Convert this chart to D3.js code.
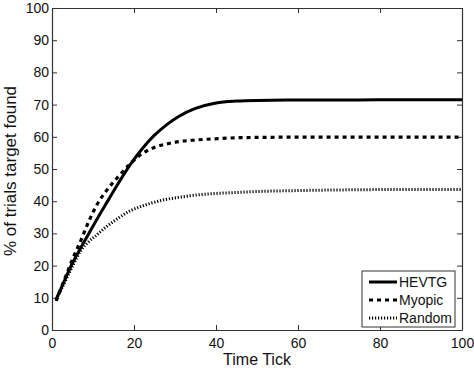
<!DOCTYPE html>
<html>
<head>
<meta charset="utf-8">
<script src="https://cdn.jsdelivr.net/npm/d3@7"></script>
<style>
  body { margin: 0; background: #fff; }
  text { font-family: "Liberation Sans", Arial, sans-serif; fill: #111; }
</style>
</head>
<body>
<div id="chart"></div>
<script>
const ticks = [1, 3, 5, 7, 9, 11, 13, 16, 19, 22, 25, 28, 31, 35, 40, 45, 50, 60, 70, 80, 90, 100]
const hevtg = [9.5, 15.2, 20.8, 25.5, 30, 34.5, 38.8, 45.2, 51.2, 56.3, 60.5, 63.8, 66.4, 68.8, 70.5, 71.1, 71.3, 71.4, 71.4, 71.5, 71.5, 71.5]
const myopic = [9, 15.5, 22, 27.7, 33.8, 39, 42.8, 47.4, 51.5, 54.8, 56.7, 57.8, 58.5, 59, 59.4, 59.7, 59.8, 59.9, 59.9, 59.9, 59.9, 59.9]
const random = [9.5, 14.5, 19.8, 24.6, 27.5, 29.6, 31.8, 34.6, 37, 38.5, 39.7, 40.6, 41.2, 41.9, 42.4, 42.7, 43, 43.3, 43.5, 43.6, 43.6, 43.6]
const seriesNames = ['HEVTG', 'Myopic', 'Random']
const xTicks = [0, 20, 40, 60, 80, 100]
const yTicks = d3.range(0, 101, 10)

const width = 474, height = 370
const margin = {top: 8, right: 12, bottom: 40, left: 52}

const x = d3.scaleLinear().domain([0, 100]).range([margin.left, width - margin.right])
const y = d3.scaleLinear().domain([0, 100]).range([height - margin.bottom, margin.top])

const svg = d3.select('#chart').append('svg')
  .attr('width', width)
  .attr('height', height)

const styles = [
  {dash: null, w: 3},
  {dash: '4,4', w: 3.2},
  {dash: '1.2,1.8', w: 3}
]

// axes (matlab box style, ticks inside)
function styleAxis(g) {
  g.select('.domain').attr('stroke', '#333').attr('stroke-width', 1.2)
  g.selectAll('.tick line').attr('stroke', '#333')
  g.selectAll('.tick text').attr('font-size', 14).attr('fill', '#111')
    .attr('font-family', '"Liberation Sans", Arial, sans-serif')
}

svg.append('g')
  .attr('transform', `translate(0, ${y(0)})`)
  .call(d3.axisBottom(x).tickValues(xTicks).tickSizeInner(-5).tickSizeOuter(0).tickPadding(8))
  .call(styleAxis)

svg.append('g')
  .attr('transform', `translate(0, ${y(100)})`)
  .call(d3.axisTop(x).tickValues(xTicks).tickSizeInner(-5).tickSizeOuter(0).tickFormat(''))
  .call(styleAxis)

svg.append('g')
  .attr('transform', `translate(${x(0)}, 0)`)
  .call(d3.axisLeft(y).tickValues(yTicks).tickSizeInner(-5).tickSizeOuter(0).tickPadding(3))
  .call(styleAxis)

svg.append('g')
  .attr('transform', `translate(${x(100)}, 0)`)
  .call(d3.axisRight(y).tickValues(yTicks).tickSizeInner(-5).tickSizeOuter(0).tickFormat(''))
  .call(styleAxis)

// lines
const line = d3.line()
  .x((d, i) => x(ticks[i]))
  .y(d => y(d))
  .curve(d3.curveMonotoneX)

;[hevtg, myopic, random].forEach((vals, i) => {
  svg.append('path')
    .datum(vals)
    .attr('fill', 'none')
    .attr('stroke', '#000')
    .attr('stroke-width', styles[i].w)
    .attr('stroke-dasharray', styles[i].dash)
    .attr('d', line)
})

// axis labels
svg.append('text')
  .attr('x', (x(0) + x(100)) / 2)
  .attr('y', 365)
  .attr('text-anchor', 'middle')
  .attr('font-size', 16)
  .text('Time Tick')

svg.append('text')
  .attr('transform', `translate(16, 171) rotate(-90)`)
  .attr('text-anchor', 'middle')
  .attr('font-size', 17)
  .text('% of trials target found')

// legend
const legend = svg.append('g')
legend.append('rect')
  .attr('x', 362).attr('y', 271)
  .attr('width', 93).attr('height', 56)
  .attr('fill', '#fff')
  .attr('stroke', '#333')

seriesNames.forEach((name, i) => {
  const ly = 282 + i * 18
  legend.append('line')
    .attr('x1', 369).attr('x2', 397)
    .attr('y1', ly).attr('y2', ly)
    .attr('stroke', '#000')
    .attr('stroke-width', styles[i].w)
    .attr('stroke-dasharray', styles[i].dash)
  legend.append('text')
    .attr('x', 399).attr('y', ly + 5)
    .attr('font-size', 14)
    .text(name)
})
</script>
</body>
</html>
